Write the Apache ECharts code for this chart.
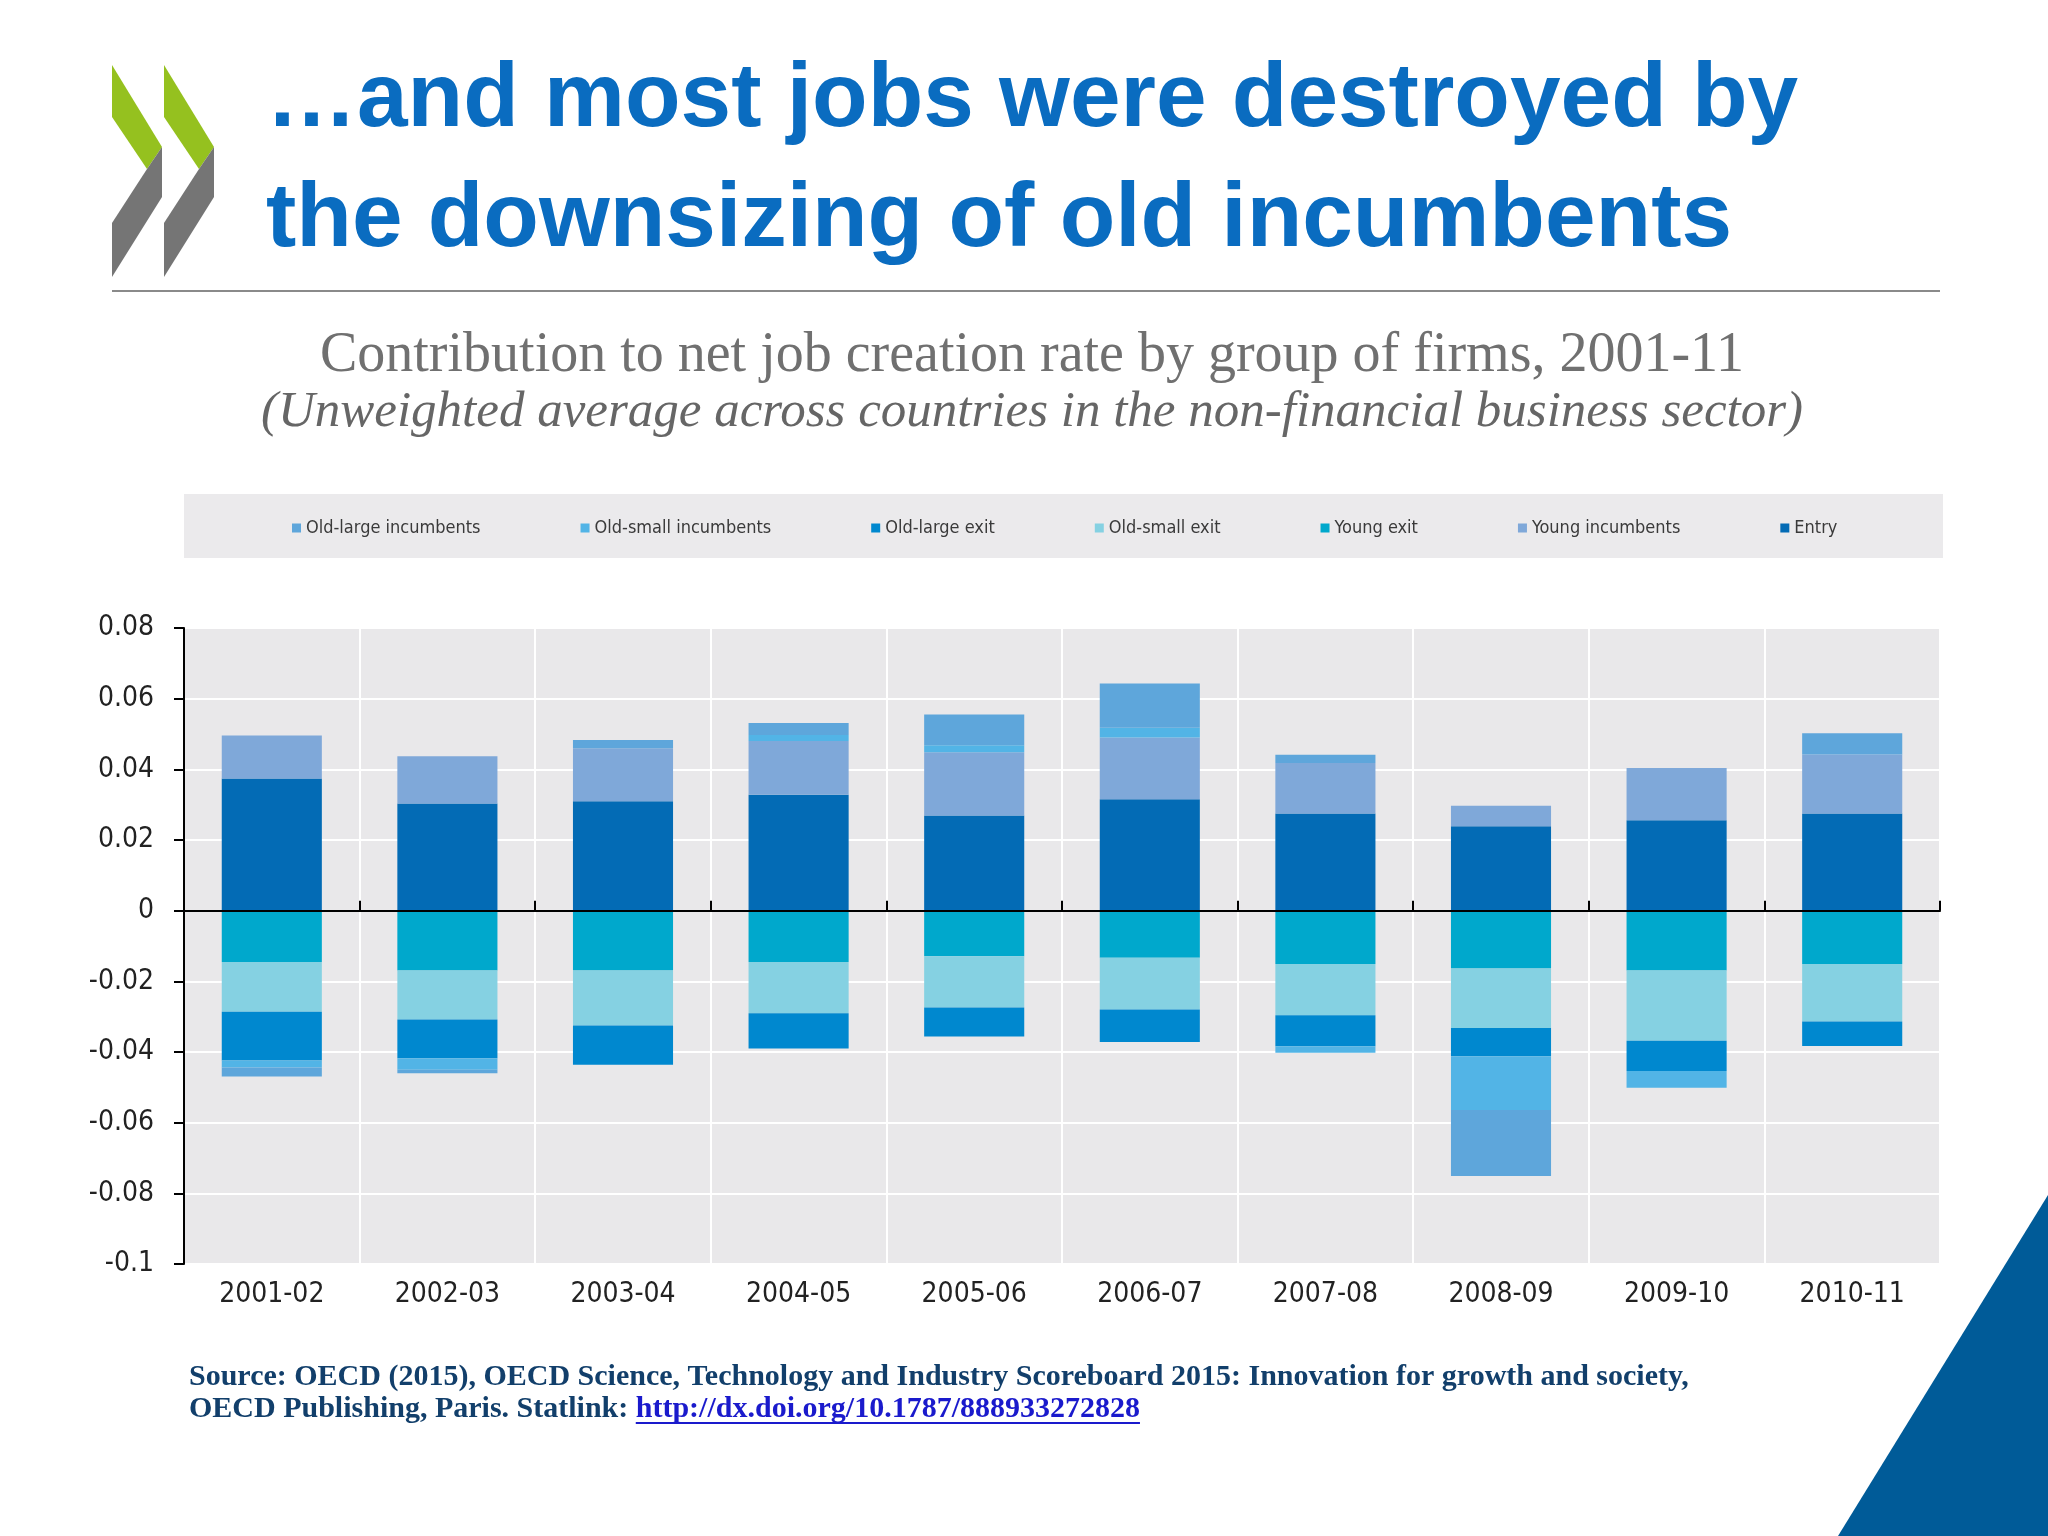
<!DOCTYPE html>
<html>
<head>
<meta charset="utf-8">
<title>Contribution to net job creation rate</title>
<script src="https://cdn.jsdelivr.net/npm/echarts@6/dist/echarts.min.js"></script>
<style>
  html, body { margin: 0; padding: 0; background: #fff; }
  #main { width: 2048px; height: 1536px; }
</style>
</head>
<body>
<div id="main"></div>
<script>
// values (share of employment)
var categories = ["2001-02", "2002-03", "2003-04", "2004-05", "2005-06", "2006-07", "2007-08", "2008-09", "2009-10", "2010-11"];
var entry = [0.0374, 0.0303, 0.0310, 0.0328, 0.0269, 0.0315, 0.0275, 0.0239, 0.0256, 0.0275];
var youngIncumbents = [0.0122, 0.0134, 0.0150, 0.0152, 0.0179, 0.0175, 0.0143, 0.0058, 0.0148, 0.0167];
var youngExit = [-0.0145, -0.0169, -0.0169, -0.0145, -0.0129, -0.0133, -0.0151, -0.0164, -0.0169, -0.0151];
var oldSmallExit = [-0.0141, -0.0139, -0.0156, -0.0145, -0.0145, -0.0147, -0.0145, -0.0168, -0.0199, -0.0163];
var oldLargeExit = [-0.0138, -0.0110, -0.0111, -0.0100, -0.0082, -0.0092, -0.0088, -0.0080, -0.0086, -0.0069];
var oldSmallIncumbents = [-0.0020, -0.0032, 0, 0.0017, 0.0020, 0.0028, -0.0018, -0.0152, -0.0047, 0];
var oldLargeIncumbents = [-0.0025, -0.0010, 0.0023, 0.0034, 0.0087, 0.0125, 0.0023, -0.0187, 0, 0.0060];
var legendOrder = ["Old-large incumbents", "Old-small incumbents", "Old-large exit", "Old-small exit", "Young exit", "Young incumbents", "Entry"];

var narrow = "'Liberation Sans Narrow', 'Arial Narrow', 'DejaVu Sans Condensed', sans-serif";
var serif = "'Liberation Serif', 'DejaVu Serif', serif";

// width of a piece of text, used to underline the statlink
function textWidth(txt, font) {
  var ctx = document.createElement("canvas").getContext("2d");
  ctx.font = font;
  return ctx.measureText(txt).width;
}

var sourceFont = "bold 30px " + serif;
var prefix = "OECD Publishing, Paris. Statlink: ";
var link = "http://dx.doi.org/10.1787/888933272828";
var linkX = 189 + textWidth(prefix, sourceFont);
var linkW = textWidth(link, sourceFont);

function bar(name, data, color) {
  return {
    name: name,
    type: "bar",
    stack: "total",
    barWidth: "57%",
    itemStyle: { color: color },
    data: data,
  };
}

var charts = echarts.init(document.getElementById("main"));
charts.setOption({
  backgroundColor: "#ffffff",
  animation: false,
  graphic: [
    // OECD chevrons
    { type: "polygon", shape: { points: [[112, 65], [162, 147], [147, 169], [112, 117]] }, style: { fill: "#95c11f" } },
    { type: "polygon", shape: { points: [[162, 147], [162, 197], [112, 277], [112, 223], [147, 169]] }, style: { fill: "#757575" } },
    { type: "polygon", shape: { points: [[164, 65], [214, 147], [199, 169], [164, 117]] }, style: { fill: "#95c11f" } },
    { type: "polygon", shape: { points: [[214, 147], [214, 197], [164, 277], [164, 223], [199, 169]] }, style: { fill: "#757575" } },
    {
      type: "text", x: 266, y: 101,
      style: { text: "\u2026and most jobs were destroyed by", font: "bold 91px 'Liberation Sans', Arial, sans-serif", fill: "#0a6cc0", verticalAlign: "middle" },
    },
    {
      type: "text", x: 266, y: 221,
      style: { text: "the downsizing of old incumbents", font: "bold 91px 'Liberation Sans', Arial, sans-serif", fill: "#0a6cc0", verticalAlign: "middle" },
    },
    { type: "line", shape: { x1: 112, y1: 291, x2: 1940, y2: 291 }, style: { stroke: "#8a8a8a", lineWidth: 2 } },
    {
      type: "text", x: 1032, y: 356,
      style: { text: "Contribution to net job creation rate by group of firms, 2001-11", font: "56px " + serif, fill: "#707070", align: "center", verticalAlign: "middle" },
    },
    {
      type: "text", x: 1032, y: 413,
      style: { text: "(Unweighted average across countries in the non-financial business sector)", font: "italic 51px " + serif, fill: "#666666", align: "center", verticalAlign: "middle" },
    },
    // legend band
    { type: "rect", z: -1, shape: { x: 184, y: 494, width: 1759, height: 64 }, style: { fill: "#ebeaec" } },
    // source
    {
      type: "text", x: 189, y: 1377,
      style: { text: "Source: OECD (2015), OECD Science, Technology and Industry Scoreboard 2015: Innovation for growth and society,", font: sourceFont, fill: "#123f6b", verticalAlign: "middle" },
    },
    {
      type: "text", x: 189, y: 1409,
      style: { text: prefix, font: sourceFont, fill: "#123f6b", verticalAlign: "middle" },
    },
    {
      type: "text", x: linkX, y: 1409,
      style: { text: link, font: sourceFont, fill: "#1a1acc", verticalAlign: "middle" },
    },
    { type: "line", shape: { x1: linkX, y1: 1423, x2: linkX + linkW, y2: 1423 }, style: { stroke: "#1a1acc", lineWidth: 2 } },
    // corner triangle
    { type: "polygon", shape: { points: [[1838, 1536], [2048, 1195], [2048, 1536]] }, style: { fill: "#005b98" } },
  ],
  legend: {
    data: legendOrder,
    left: 287,
    top: 514,
    itemWidth: 9,
    itemHeight: 9,
    itemGap: 100,
    icon: "rect",
    textStyle: { fontFamily: narrow, fontSize: 18, color: "#3a3a3a" },
  },
  grid: {
    left: 184,
    right: 108,
    top: 628,
    bottom: 272,
    show: true,
    backgroundColor: "#e9e8ea",
    borderWidth: 0,
  },
  xAxis: [
    {
      type: "category",
      data: categories,
      position: "bottom",
      axisLine: { show: false, onZero: false },
      axisTick: { show: false },
      axisLabel: { fontFamily: narrow, fontSize: 28, color: "#222", margin: 17 },
      splitLine: { show: true, lineStyle: { color: "#ffffff", width: 2 } },
    },
    {
      type: "category",
      data: categories,
      position: "bottom",
      z: 5,
      axisLine: { show: true, onZero: true, lineStyle: { color: "#000", width: 2 } },
      axisTick: { show: true, inside: true, length: 10, lineStyle: { color: "#000", width: 2 } },
      axisLabel: { show: false },
      splitLine: { show: false },
    },
  ],
  yAxis: {
    type: "value",
    min: -0.1,
    max: 0.08,
    interval: 0.02,
    axisLine: { show: true, lineStyle: { color: "#000", width: 2 } },
    axisTick: { show: true, length: 10, lineStyle: { color: "#000", width: 2 } },
    axisLabel: {
      fontFamily: narrow, fontSize: 28, color: "#222", margin: 30,
      formatter: function (v) { return String(Math.round(v * 100) / 100); },
    },
    splitLine: { show: true, lineStyle: { color: "#ffffff", width: 2 } },
  },
  // series closest to zero come first in the stack
  series: [
    bar("Entry", entry, "#036bb5"),
    bar("Young incumbents", youngIncumbents, "#7fa8d9"),
    bar("Young exit", youngExit, "#00a8cc"),
    bar("Old-small exit", oldSmallExit, "#85d1e2"),
    bar("Old-large exit", oldLargeExit, "#0088cf"),
    bar("Old-small incumbents", oldSmallIncumbents, "#52b4e6"),
    bar("Old-large incumbents", oldLargeIncumbents, "#5ea6db"),
  ],
});
</script>
</body>
</html>
